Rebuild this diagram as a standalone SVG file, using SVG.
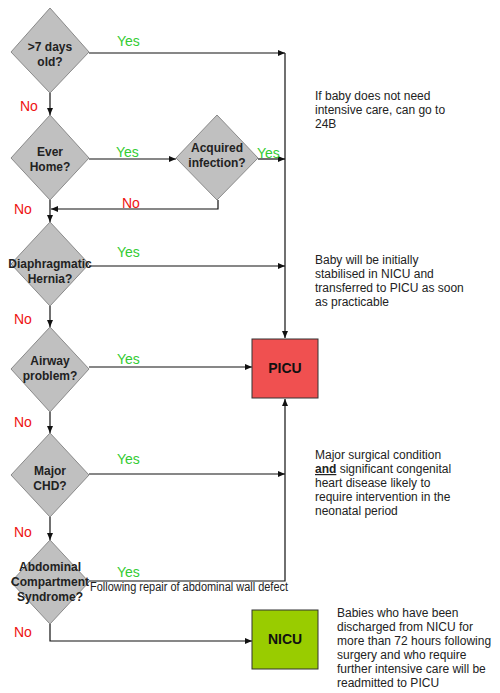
<svg xmlns="http://www.w3.org/2000/svg" width="500" height="693" viewBox="0 0 500 693">
<style>
.d{fill:#c0c0c0;stroke:#8a8a8a;stroke-width:1}
.dt{font-family:"Liberation Sans",Arial,sans-serif;font-size:12px;font-weight:bold;fill:#222;text-anchor:middle}
.y{font-family:"Liberation Sans",Arial,sans-serif;font-size:14px;fill:#33cc33}
.n{font-family:"Liberation Sans",Arial,sans-serif;font-size:14px;fill:#ee1111}
.c{fill:none;stroke:#111;stroke-width:1.2}
.note{font-family:"Liberation Sans",Arial,sans-serif;font-size:12px;fill:#222}
.bt{font-family:"Liberation Sans",Arial,sans-serif;font-size:14px;font-weight:bold;fill:#111;text-anchor:middle}
</style>
<defs>
<marker id="a" markerWidth="8" markerHeight="8" refX="7" refY="4" orient="auto" markerUnits="userSpaceOnUse">
<path d="M0,1 L7,4 L0,7 z" fill="#111"/>
</marker>
</defs>
<g id="connectors">
<path class="c" d="M89,53 H285" marker-end="url(#a)"/>
<path class="c" d="M285,53 V338" marker-end="url(#a)"/>
<path class="c" d="M50,93 V115" marker-end="url(#a)"/>
<path class="c" d="M89,159 H176" marker-end="url(#a)"/>
<path class="c" d="M258,159 H285" marker-end="url(#a)"/>
<path class="c" d="M218,200 V209 H51" marker-end="url(#a)"/>
<path class="c" d="M50,200 V222" marker-end="url(#a)"/>
<path class="c" d="M89,266 H285" marker-end="url(#a)"/>
<path class="c" d="M50,306 V327" marker-end="url(#a)"/>
<path class="c" d="M89,367 H252" marker-end="url(#a)"/>
<path class="c" d="M50,412 V433" marker-end="url(#a)"/>
<path class="c" d="M89,474 H285" marker-end="url(#a)"/>
<path class="c" d="M50,517 V540" marker-end="url(#a)"/>
<path class="c" d="M89,581 H285 V399" marker-end="url(#a)"/>
<path class="c" d="M50,624 V641 H252" marker-end="url(#a)"/>
</g>
<g id="labels">
<text class="y" x="117" y="46">Yes</text>
<text class="n" x="20" y="111">No</text>
<text class="y" x="116" y="157">Yes</text>
<text class="y" x="257" y="158">Yes</text>
<text class="n" x="122" y="208">No</text>
<text class="n" x="14" y="214">No</text>
<text class="y" x="117" y="257">Yes</text>
<text class="n" x="14" y="324">No</text>
<text class="y" x="117" y="364">Yes</text>
<text class="n" x="14" y="427">No</text>
<text class="y" x="117" y="464">Yes</text>
<text class="n" x="14" y="537">No</text>
<text class="y" x="117" y="577">Yes</text>
<text class="note" x="90" y="591" font-size="10.5" textLength="198" lengthAdjust="spacingAndGlyphs">Following repair of abdominal wall defect</text>
<text class="n" x="14" y="637">No</text>
</g>
<g id="n1">
<polygon class="d" points="50,8 89,52 50,93 11,52"/>
<text class="dt" x="50" y="51">&gt;7 days</text>
<text class="dt" x="50" y="66">old?</text>
</g>
<g id="n2">
<polygon class="d" points="50,115 89,158 50,200 11,158"/>
<text class="dt" x="50" y="156">Ever</text>
<text class="dt" x="50" y="171">Home?</text>
</g>
<g id="n3">
<polygon class="d" points="217,115 258,158 217,200 176,158"/>
<text class="dt" x="217" y="152">Acquired</text>
<text class="dt" x="217" y="167">infection?</text>
</g>
<g id="n4">
<polygon class="d" points="50,222 89,264 50,306 11,264"/>
<text class="dt" x="50" y="268">Diaphragmatic</text>
<text class="dt" x="50" y="283">Hernia?</text>
</g>
<g id="n5">
<polygon class="d" points="50,327 89,369 50,412 11,369"/>
<text class="dt" x="50" y="365">Airway</text>
<text class="dt" x="50" y="380">problem?</text>
</g>
<g id="n6">
<polygon class="d" points="50,433 89,475 50,517 11,475"/>
<text class="dt" x="50" y="475">Major</text>
<text class="dt" x="50" y="490">CHD?</text>
</g>
<g id="n7">
<polygon class="d" points="50,540 89,582 50,624 11,582"/>
<text class="dt" x="50" y="571">Abdominal</text>
<text class="dt" x="50" y="586">Compartment</text>
<text class="dt" x="50" y="601">Syndrome?</text>
</g>
<g id="picu">
<rect x="252" y="339" width="66" height="59" fill="#f05050" stroke="#333" stroke-width="1"/>
<text class="bt" x="285" y="373">PICU</text>
</g>
<g id="nicu">
<rect x="252" y="610" width="66" height="59" fill="#99cc00" stroke="#333" stroke-width="1"/>
<text class="bt" x="285" y="644">NICU</text>
</g>
<g id="notes">
<text class="note" x="315" y="100">If baby does not need</text>
<text class="note" x="315" y="114">intensive care, can go to</text>
<text class="note" x="315" y="128">24B</text>
<text class="note" x="315" y="264">Baby will be initially</text>
<text class="note" x="315" y="278">stabilised in NICU and</text>
<text class="note" x="315" y="292">transferred to PICU as soon</text>
<text class="note" x="315" y="306">as practicable</text>
<text class="note" x="315" y="459">Major surgical condition</text>
<text class="note" x="315" y="473"><tspan font-weight="bold" text-decoration="underline">and</tspan> significant congenital</text>
<text class="note" x="315" y="487">heart disease likely to</text>
<text class="note" x="315" y="501">require intervention in the</text>
<text class="note" x="315" y="515">neonatal period</text>
<text class="note" x="337" y="617">Babies who have been</text>
<text class="note" x="337" y="631">discharged from NICU for</text>
<text class="note" x="337" y="645">more than 72 hours following</text>
<text class="note" x="337" y="659">surgery and who require</text>
<text class="note" x="337" y="673">further intensive care will be</text>
<text class="note" x="337" y="687">readmitted to PICU</text>
</g>
</svg>
